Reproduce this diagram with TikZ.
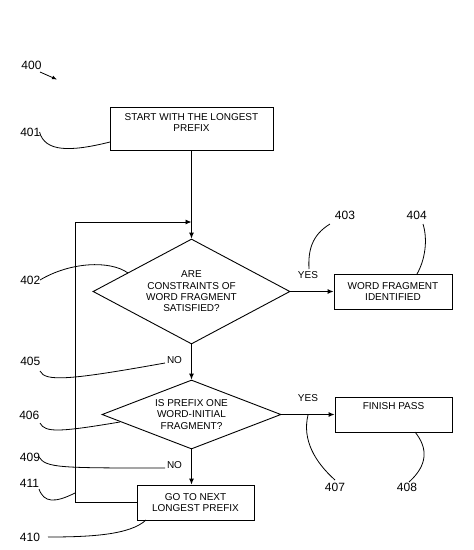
\documentclass[tikz,border=0pt]{standalone}
\usepackage{fontspec}
\setmainfont{Liberation Sans}
\usetikzlibrary{shapes.geometric,arrows.meta}
\newcommand\txtfont{\fontsize{10}{11.3}\selectfont}
\newcommand\numfont{\fontsize{12}{14}\selectfont}
\tikzset{
  box/.style={draw, rectangle, inner sep=0pt, line width=0.9pt},
  dia/.style={draw, diamond, inner sep=0pt, line width=0.9pt, align=center, font=\txtfont},
  txt/.style={inner sep=0pt, align=center, font=\txtfont},
  num/.style={inner sep=0pt, font=\numfont},
  yn/.style={inner sep=0pt, font=\txtfont},
  flow/.style={line width=0.9pt, -{Latex[length=6pt,width=5pt]}},
  lead/.style={line width=0.8pt},
}
\begin{document}
\begin{tikzpicture}[x=1pt,y=-1pt]
\useasboundingbox (0,0) rectangle (474,550);

% boxes and decisions
\node[box, minimum width=163pt, minimum height=43pt] (b401) at (191.5,128.5) {};
\node[txt, anchor=north] (t401) at ([yshift=-6.5pt]b401.north) {START WITH THE LONGEST\\PREFIX};
\node[dia, minimum width=197pt, minimum height=105pt, aspect=1.876] (d402) at (191.5,291.5) {ARE\\CONSTRAINTS OF\\WORD FRAGMENT\\SATISFIED?};
\node[box, txt, minimum width=118pt, minimum height=35pt] (b404) at (393,291.5) {WORD FRAGMENT\\IDENTIFIED};
\node[dia, minimum width=179pt, minimum height=69pt, aspect=2.59] (d406) at (191.5,414.5) {IS PREFIX ONE\\WORD-INITIAL\\FRAGMENT?};
\node[box, minimum width=117pt, minimum height=35pt] (b408) at (393.5,414.5) {};
\node[txt, anchor=north] (t408) at ([yshift=-5.5pt]b408.north) {FINISH PASS};
\node[box, txt, minimum width=117pt, minimum height=35pt] (b410) at (195.5,502.5) {GO TO NEXT\\LONGEST PREFIX};

% flow connectors
\coordinate (lc) at (75,222);
\coordinate (lj) at (191.5,222);
\draw[flow] (b401.south) -- (d402.north);
\draw[flow] (d402.east) -- (b404.west);
\draw[flow] (d402.south) -- (d406.north);
\draw[flow] (d406.east) -- (b408.west);
\draw[flow] (d406.south) -- (d406.south |- b410.north);
\draw[flow] (b410.west) -| (lc) -- (lj);

% YES / NO
\node[yn] (yes1) at (308,275) {YES};
\node[yn] (no1) at (174.5,360) {NO};
\node[yn] (yes2) at (308,398) {YES};
\node[yn] (no2) at (174.5,465) {NO};

% reference numerals
\node[num] (n400) at (31.5,65) {400};
\node[num] (n401) at (30.3,132) {401};
\node[num] (n402) at (30.3,280) {402};
\node[num] (n403) at (345,215) {403};
\node[num] (n404) at (416.7,215) {404};
\node[num] (n405) at (30.3,361) {405};
\node[num] (n406) at (29.3,415) {406};
\node[num] (n407) at (335,487) {407};
\node[num] (n408) at (407,487) {408};
\node[num] (n409) at (30,457) {409};
\node[num] (n411) at (29.5,483) {411};
\node[num] (n410) at (30,537) {410};

% 400 arrow
\coordinate (a400s) at (40,72);
\coordinate (a400e) at (57,79.5);
\draw[line width=0.8pt, -{Latex[length=5pt,width=4pt]}] (a400s) -- (a400e);

% leader lines
\coordinate (l401a) at (39.5,132);
\coordinate (l401b) at (110,142);
\draw[lead] (l401a) .. controls (45,152) and (70,152) .. (l401b);

\coordinate (l402a) at (40,280);
\coordinate (l402b) at (128,273);
\draw[lead] (l402a) .. controls (70,262) and (110,260) .. (l402b);

\coordinate (l403a) at (330,224);
\coordinate (l403b) at (309,269);
\draw[lead] (l403a) .. controls (312,235) and (308,250) .. (l403b);

\coordinate (l404a) at (423,224);
\coordinate (l404b) at (417,274);
\draw[lead] (l404a) .. controls (428,240) and (425,260) .. (l404b);

\coordinate (l405a) at (40,371);
\coordinate (l405b) at (165,363);
\draw[lead] (l405a) .. controls (45,382) and (70,380) .. (l405b);

\coordinate (l406a) at (40,423);
\coordinate (l406b) at (120,422);
\draw[lead] (l406a) .. controls (45,433) and (60,432) .. (l406b);

\coordinate (l407a) at (308,415);
\coordinate (l407b) at (335,480);
\draw[lead] (l407a) .. controls (302,440) and (315,462) .. (l407b);

\coordinate (l408a) at (415,432);
\coordinate (l408b) at (409,482);
\draw[lead] (l408a) .. controls (428,448) and (428,465) .. (l408b);

\coordinate (l409a) at (39,457);
\coordinate (l409b) at (165,468);
\draw[lead] (l409a) .. controls (46,468) and (60,468) .. (l409b);

\coordinate (l411a) at (39,489);
\coordinate (l411b) at (75,493);
\draw[lead] (l411a) .. controls (44,503) and (55,503) .. (l411b);

\coordinate (l410a) at (48,537);
\coordinate (l410b) at (146,520);
\draw[lead] (l410a) .. controls (90,537) and (130,535) .. (l410b);
\end{tikzpicture}
\end{document}
